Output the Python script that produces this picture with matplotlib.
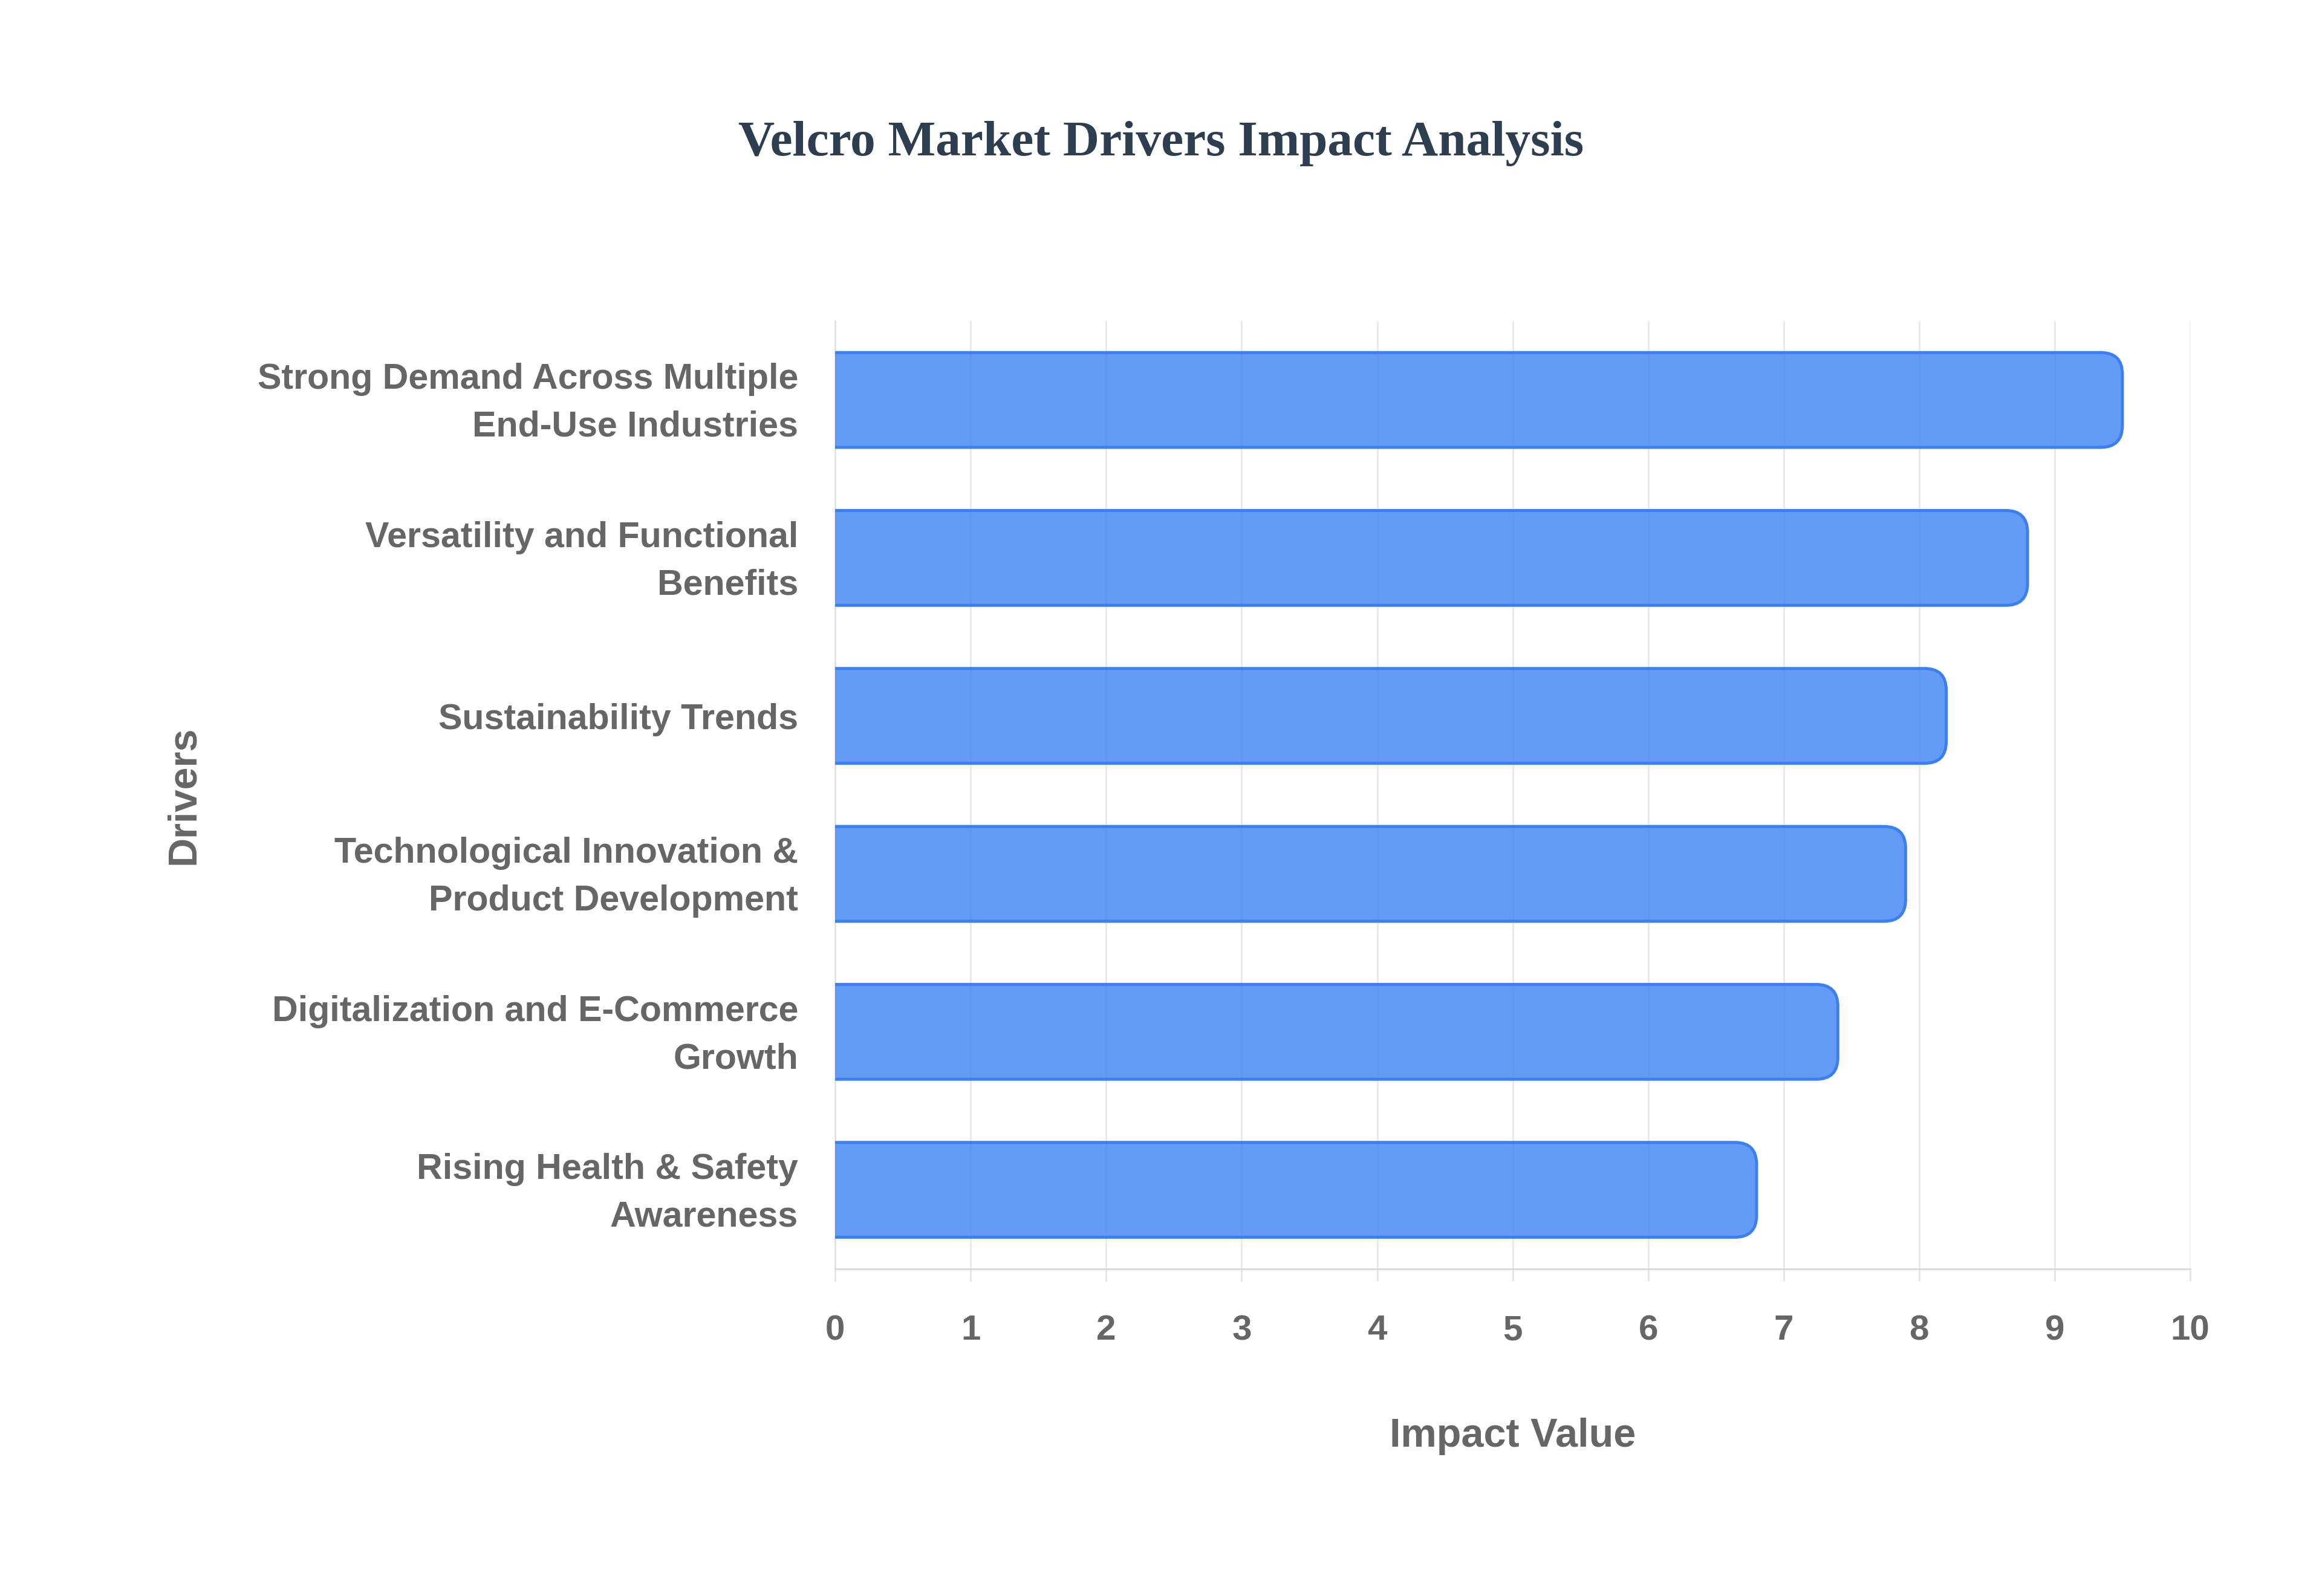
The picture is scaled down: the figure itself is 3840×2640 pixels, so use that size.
import matplotlib
matplotlib.use('Agg')
from matplotlib import pyplot as plt
from matplotlib.patches import FancyBboxPatch
from matplotlib.transforms import ScaledTranslation

# data, top to bottom
drivers = [
    'Strong Demand Across Multiple\nEnd-Use Industries',
    'Versatility and Functional\nBenefits',
    'Sustainability Trends',
    'Technological Innovation &\nProduct Development',
    'Digitalization and E-Commerce\nGrowth',
    'Rising Health & Safety\nAwareness',
]
impact = [9.5, 8.8, 8.2, 7.9, 7.4, 6.8]
x_ticks = list(range(0, 11))

plt.rcParams['font.family'] = ['Liberation Sans', 'DejaVu Sans']

fig = plt.figure(figsize=(19.2, 13.2), dpi=200)
ax = fig.add_axes([0.3597, 0.2050, 0.5835, 0.5939])

bar_fill = (66 / 255, 133 / 255, 244 / 255, 0.82)
bar_edge = '#3b7ff0'

bars = ax.barh(range(len(drivers)), impact, height=0.6, color='none', edgecolor='none')
# swap plain rectangles for rounded ones (left end is clipped by the axes)
for bar in bars:
    x, y, w, h = bar.get_x(), bar.get_y(), bar.get_width(), bar.get_height()
    bar.set_visible(False)
    rb = FancyBboxPatch((x - 0.4, y), w + 0.4, h,
                        boxstyle='round,pad=0,rounding_size=0.16',
                        mutation_aspect=0.86,
                        facecolor=bar_fill, edgecolor=bar_edge,
                        linewidth=1.8, zorder=3)
    ax.add_patch(rb)

ax.set_xlim(0, 10)
ax.set_ylim(len(drivers) - 0.5, -0.5)

ax.set_yticks(range(len(drivers)))
ax.set_yticklabels(drivers, fontsize=21.3, fontweight='bold', color='#666666',
                   linespacing=1.55)
ax.tick_params(axis='y', length=0, pad=22)
# two-line labels sit a bit low, nudge them up
nudge = ScaledTranslation(0, 4.4 / 72, fig.dpi_scale_trans)
for lab in ax.get_yticklabels():
    if '\n' in lab.get_text():
        lab.set_transform(lab.get_transform() + nudge)

ax.set_xticks(x_ticks)
ax.tick_params(axis='x', length=7.2, width=0.9, color='#e2e2e2', pad=20,
               labelsize=21, labelcolor='#666666')
for lab in ax.get_xticklabels():
    lab.set_fontweight('bold')

ax.grid(axis='x', color='#e6e6e6', linewidth=0.9)
ax.set_axisbelow(True)

for s in ['top', 'right']:
    ax.spines[s].set_visible(False)
ax.spines['left'].set_color('#e0e0e0')
ax.spines['left'].set_linewidth(0.9)
ax.spines['bottom'].set_color('#dadada')
ax.spines['bottom'].set_linewidth(1.0)

ax.set_xlabel('Impact Value', fontsize=24, fontweight='bold', color='#666666',
              va='center')
ax.xaxis.set_label_coords(0.5, -0.177)

fig.text(304 / 3840, 1 - 1315 / 2640, 'Drivers', rotation=90, ha='center',
         va='center', fontsize=24, fontweight='bold', color='#666666')

fig.text(0.5, 0.910, 'Velcro Market Drivers Impact Analysis', ha='center',
         va='center', fontsize=30, fontweight='bold', color='#2c3e50',
         family=['Liberation Serif', 'DejaVu Serif'])

fig.savefig('out.png', dpi=200)
